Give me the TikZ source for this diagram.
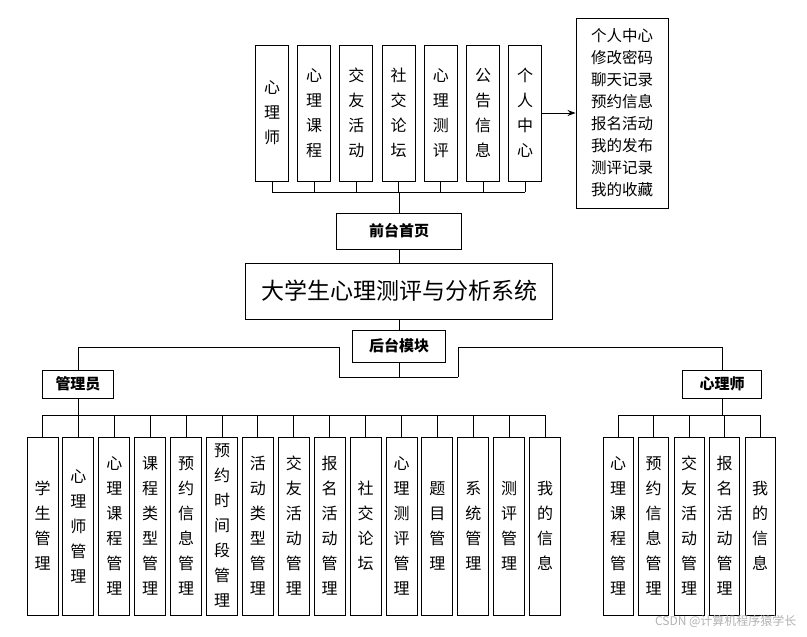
\documentclass[tikz,border=0pt]{standalone}
\usepackage{fontspec}
\setmainfont{Noto Sans CJK SC}
\usetikzlibrary{arrows.meta}
\begin{document}
\begin{tikzpicture}[x=1pt,y=-1pt,
  box/.style={draw,line width=0.9pt,inner sep=0pt,align=center},
  vbox/.style={box,minimum width=31pt,minimum height=178pt,font=\fontsize{16}{25}\selectfont},
  tbox/.style={box,minimum width=33pt,minimum height=136pt,font=\fontsize{16}{25}\selectfont},
  lbl/.style={box,font=\bfseries\fontsize{15}{18}\selectfont},
  ln/.style={line width=0.9pt}]
\useasboundingbox (0,0) rectangle (807,637);
\coordinate (ty) at (0,192);
\coordinate (by) at (0,415);
% top boxes
\foreach \t [count=\i] in {{心\\理\\师},{心\\理\\课\\程},{交\\友\\活\\动},{社\\交\\论\\坛},{心\\理\\测\\评},{公\\告\\信\\息},{个\\人\\中\\心}}
  {\node[tbox] (t\i) at ({272+(\i-1)*42.2},113) {\t};
   \draw[ln] (t\i.south) -- (t\i.south |- ty);}
\node[box,minimum width=92pt,minimum height=190pt,font=\fontsize{15.5}{22}\selectfont] (pc) at (622,113)
 {个人中心\\修改密码\\聊天记录\\预约信息\\报名活动\\我的发布\\测评记录\\我的收藏};
\draw[ln,-{Stealth[length=8pt,width=6pt]}] (t7.east) -- (pc.west);
\node[lbl,minimum width=125pt,minimum height=36pt] (qt) at (399,231) {前台首页};
\node[box,minimum width=307pt,minimum height=56pt,font=\fontsize{23}{28}\selectfont] (sys) at (399,291) {大学生心理测评与分析系统};
\node[lbl,minimum width=93pt,minimum height=32pt] (ht) at (399,346) {后台模块};
\draw[ln] (t1.south |- ty) -- (t7.south |- ty);
\draw[ln] (qt.north |- ty) -- (qt.north);
\draw[ln] (qt) -- (sys);
\draw[ln] (sys) -- (ht);
\node[lbl,minimum width=71pt,minimum height=28pt] (gly) at (78,384) {管理员};
\node[lbl,minimum width=79pt,minimum height=28pt] (xls) at (722,384) {心理师};
\draw[ln] (ht.south) -- (399,377);
\draw[ln] (339,377) -- (458,377);
\draw[ln] (339,377) -- (339,347) -- (78,347) -- (gly.north);
\draw[ln] (458,377) -- (458,347) -- (722,347) -- (xls.north);
% admin boxes
\foreach \t [count=\i] in {{学\\生\\管\\理},{心\\理\\师\\管\\理},{心\\理\\课\\程\\管\\理},{课\\程\\类\\型\\管\\理},{预\\约\\信\\息\\管\\理},{预\\约\\时\\间\\段\\管\\理},{活\\动\\类\\型\\管\\理},{交\\友\\活\\动\\管\\理},{报\\名\\活\\动\\管\\理},{社\\交\\论\\坛},{心\\理\\测\\评\\管\\理},{题\\目\\管\\理},{系\\统\\管\\理},{测\\评\\管\\理},{我\\的\\信\\息}}
  {\node[vbox] (a\i) at ({42.5+(\i-1)*35.9},526) {\t};
   \draw[ln] (a\i.north) -- (a\i.north |- by);}
\draw[ln] (a1.north |- by) -- (a15.north |- by);
\draw[ln] (gly.south) -- (gly.south |- by);
% psych boxes
\foreach \t [count=\i] in {{心\\理\\课\\程\\管\\理},{预\\约\\信\\息\\管\\理},{交\\友\\活\\动\\管\\理},{报\\名\\活\\动\\管\\理},{我\\的\\信\\息}}
  {\node[vbox,minimum width=30pt] (p\i) at ({618+(\i-1)*35.5},526) {\t};
   \draw[ln] (p\i.north) -- (p\i.north |- by);}
\draw[ln] (p1.north |- by) -- (p5.north |- by);
\draw[ln] (xls.south) -- (xls.south |- by);
\node[text=gray!60,font=\fontsize{12}{14}\selectfont,anchor=east] (wm) at (800,621) {CSDN @计算机程序猿学长};
\end{tikzpicture}
\end{document}
